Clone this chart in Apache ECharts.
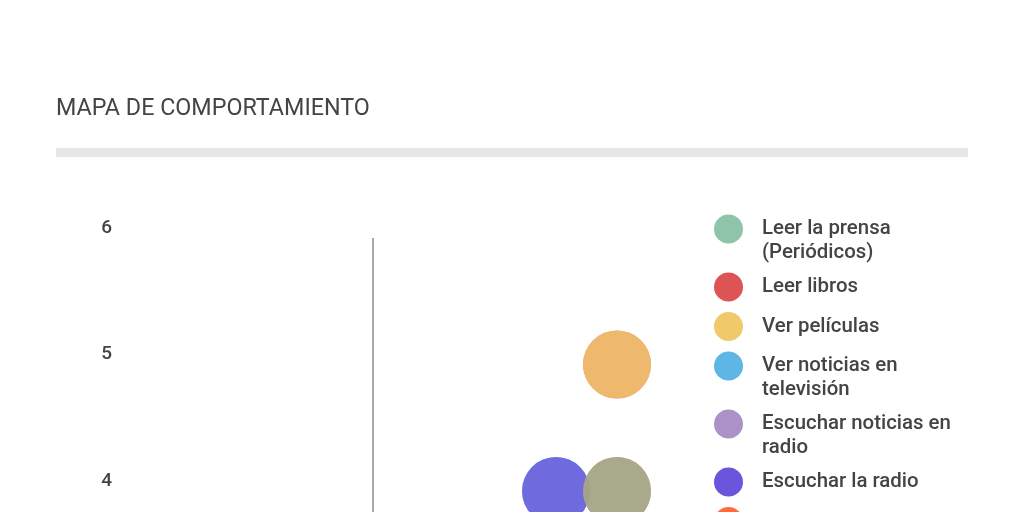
<!DOCTYPE html>
<html>
<head>
<meta charset="utf-8">
<title>Mapa de comportamiento</title>
<script src="https://cdn.jsdelivr.net/npm/echarts@6/dist/echarts.min.js"></script>
<style>
    html, body { margin: 0; padding: 0; overflow: hidden; background: #fff; }
    #chart { width: 1024px; height: 1100px; }
</style>
</head>
<body>
<div id="chart"></div>
<script>
    // series (one bubble each)
    var seriesNames = [
        'Leer la prensa (Periódicos)',
        'Leer libros',
        'Ver películas',
        'Ver noticias en televisión',
        'Escuchar noticias en radio',
        'Escuchar la radio',
        'Navegar por internet',
        'Ver series'
    ];
    var seriesColors = ['#8fc4a9', '#de5455', '#f0ca6a', '#5eb6e4', '#ad92c9', '#6b55dc', '#ff6b3c', '#94b296'];
    var xValues = [1, 4, 4, 3, 2, 3, 4, 4];
    var yValues = [3, 5, 5, 4, 2, 4, 4, 4];
    var yTicks = [0, 6, 1]; // min, max, interval

    var chart = echarts.init(document.getElementById('chart'));

    // wrap legend text like the original (about 20 chars per line)
    function wrap(name) {
        var words = name.split(' '), lines = [], cur = '';
        words.forEach(function (w) {
            if (cur && (cur + ' ' + w).length > 20) {
                lines.push(cur);
                cur = w;
            } else {
                cur = cur ? cur + ' ' + w : w;
            }
        });
        lines.push(cur);
        return lines.join('\n');
    }

    // one legend per item so the icon sits on the first text line
    var legends = [];
    var cy = 229;
    seriesNames.forEach(function (name) {
        var label = wrap(name);
        var lines = label.split('\n').length;
        legends.push({
            data: [name],
            left: 714,
            top: lines > 1 ? cy - 36 : cy - 14.5,
            padding: 0,
            icon: 'circle',
            itemWidth: 29,
            itemHeight: 29,
            itemStyle: { opacity: 1 },
            selectedMode: false,
            textStyle: {
                fontFamily: 'Roboto',
                fontSize: 20.4,
                fontWeight: 500,
                color: '#444',
                lineHeight: 24,
                padding: [0, 0, 0, 14]
            },
            formatter: function () {
                return lines > 1 ? '\n' + label : label;
            }
        });
        cy += lines > 1 ? 58 : 39.5;
    });

    var option = {
        animation: false,
        title: {
            text: 'MAPA DE COMPORTAMIENTO',
            left: 56,
            top: 98,
            padding: 0,
            textStyle: {
                fontFamily: 'Roboto',
                fontSize: 23.3,
                fontWeight: 'normal',
                color: '#444'
            }
        },
        graphic: [{
            type: 'rect',
            shape: { x: 56, y: 148, width: 912, height: 9 },
            style: { fill: '#e6e6e6' }
        }],
        legend: legends,
        grid: {
            left: 129,
            right: 346,
            top: 238,
            bottom: 103
        },
        xAxis: {
            type: 'value',
            min: -4,
            max: 5,
            interval: 1,
            splitLine: { show: false },
            axisLine: { show: false },
            axisTick: { show: false },
            axisLabel: { show: false }
        },
        yAxis: {
            type: 'value',
            min: yTicks[0],
            max: yTicks[1],
            interval: yTicks[2],
            splitLine: { show: false },
            axisLine: { show: false },
            axisTick: { show: false },
            axisLabel: {
                fontFamily: 'Roboto',
                fontSize: 19,
                fontWeight: 500,
                color: '#444',
                margin: 17,
                verticalAlign: 'bottom',
                lineHeight: 20
            }
        },
        series: seriesNames.map(function (name, i) {
            var s = {
                name: name,
                type: 'scatter',
                symbolSize: 68,
                data: [[xValues[i], yValues[i]]],
                itemStyle: { color: seriesColors[i], opacity: 0.8 },
                emphasis: { disabled: true }
            };
            if (i === 0) {
                s.markLine = {
                    silent: true,
                    symbol: 'none',
                    label: { show: false },
                    lineStyle: { color: '#8c8c8c', width: 1.5, type: 'solid' },
                    data: [{ xAxis: 0 }]
                };
            }
            return s;
        })
    };
    chart.setOption(option);
</script>
</body>
</html>
